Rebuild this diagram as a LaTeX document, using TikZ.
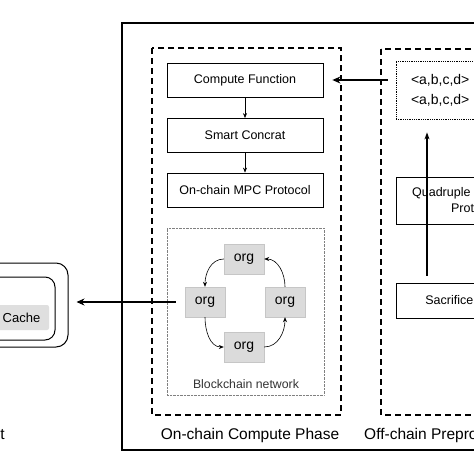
\documentclass[tikz,border=0pt]{standalone}
\usepackage{fontspec}
\setmainfont{Liberation Sans}
\usetikzlibrary{arrows.meta}

\begin{document}
\begin{tikzpicture}[x=1pt,y=-1pt,
  box/.style={draw, line width=0.8pt, minimum width=156pt, minimum height=34pt, inner sep=0pt, align=center, font=\fontsize{12.5}{16}\selectfont},
  org/.style={draw=gray!45, fill=gray!28, minimum width=40pt, minimum height=30pt, inner sep=0pt, font=\fontsize{14}{16}\selectfont},
  phase/.style={draw, line width=1.3pt, dash pattern=on 6pt off 4pt},
  label/.style={font=\fontsize{15.5}{18}\selectfont},
  small arr/.style={-{Stealth[length=5pt,width=4pt]}, line width=0.6pt},
  big arr/.style={-{Stealth[length=8pt,width=7pt]}, line width=2pt}]
\useasboundingbox (0,0) rectangle (474,474);
\clip (0,0) rectangle (474,474);
\fill[white] (0,0) rectangle (474,474);

\draw[line width=2pt] (122,23) rectangle (540,450);
\draw[phase] (152,48) rectangle (341,415);
\draw[phase] (381,49) rectangle (590,415);

\node[box] (func) at (245,80) {Compute Function};
\node[box] (contract) at (245,135.5) {Smart Concrat};
\node[box] (mpc) at (245,190) {On-chain MPC Protocol};
\draw[small arr] (func) -- (contract);
\draw[small arr] (contract) -- (mpc);

\node[draw=gray, densely dotted, minimum width=157pt, minimum height=167pt] (net) at (245.5,311.5) {};
\node[font=\fontsize{12.3}{15}\selectfont, text=black!80] (netlabel) at (246,384) {Blockchain network};
\node[org] (torg) at (244,259) {org};
\node[org] (lorg) at (205,302) {org};
\node[org] (rorg) at (285,302) {org};
\node[org] (borg) at (244,347) {org};
\draw[small arr] (torg.west) to[out=180,in=90] (lorg.north);
\draw[small arr] (lorg.south) to[out=270,in=180] (borg.west);
\draw[small arr] (borg.east) to[out=0,in=270] (rorg.south);
\draw[small arr] (rorg.north) to[out=90,in=0] (torg.east);

\node[draw, line width=1pt, rounded corners=12pt, minimum width=128pt, minimum height=84pt] (client) at (4,305) {};
\node[draw, line width=1pt, rounded corners=10pt, minimum width=105pt, minimum height=63pt] (inner) at (2.5,308.5) {};
\node[fill=gray!25, rounded corners=2pt, minimum width=55pt, minimum height=25pt, inner sep=0pt, font=\fontsize{13}{15}\selectfont] (cache) at (21.5,317.5) {Cache};
\draw[big arr, shorten >=8pt] ([xshift=-9pt]lorg.west) -- (client.east |- lorg.west);

\node[draw, densely dotted, line width=0.8pt, text width=126pt, inner xsep=15pt, inner ysep=0pt, minimum height=58pt, align=left, font=\fontsize{14}{20}\selectfont] (pool) at (474,90) {<a,b,c,d>\\<a,b,c,d>};
\node[box, minimum height=47pt] (quad) at (474,200.5) {Quadruple Generation\\Protocol};
\node[box, minimum height=35pt] (sac) at (474,300.5) {Sacrifice Protocol};
\draw[big arr, shorten >=9pt, shorten <=8pt] (pool.west |- func.east) -- (func.east);
\draw[-{Stealth[length=7pt,width=5pt]}, line width=1.3pt] ([xshift=-47pt,yshift=7pt]sac.north) -- ([xshift=-47pt,yshift=-13pt]pool.south);

\node[label] (onphase) at (250,435) {On-chain Compute Phase};
\node[label, anchor=west, inner sep=0pt] (offphase) at (364,435) {Off-chain Preprocessing Phase};
\node[label, anchor=east, inner sep=0pt] (leftphase) at (5,435) {t};
\end{tikzpicture}
\end{document}
